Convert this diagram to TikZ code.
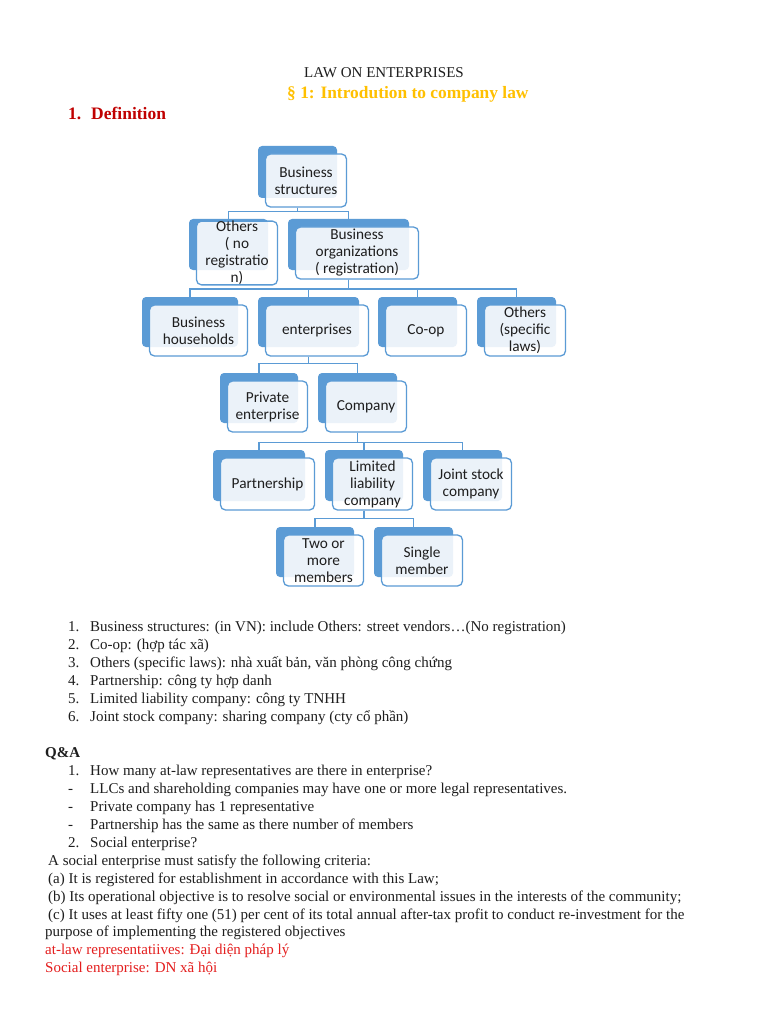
\documentclass[tikz,border=0pt]{standalone}
\usepackage{fontspec}
\setmainfont{Liberation Serif}
\newfontfamily\diagfont{Carlito}
\definecolor{sa}{RGB}{91,155,213}
\definecolor{ttl}{RGB}{255,192,0}
\definecolor{defred}{RGB}{192,0,0}
\definecolor{vnred}{RGB}{228,30,30}
\definecolor{ink}{RGB}{30,30,30}
\tikzset{
  backbox/.style={fill=sa, rounded corners=4pt, inner sep=0pt, draw=none},
  frontbox/.style={draw=sa, line width=1.3pt, fill=white, fill opacity=0.88, text opacity=1,
    rounded corners=5pt, inner sep=0pt, align=center, text=ink,
    font=\diagfont\fontsize{15.3}{17}\selectfont},
  conn/.style={draw=sa, line width=1.5pt},
  body/.style={anchor=base west, inner sep=0pt, text=ink, font=\fontsize{15}{18}\selectfont},
}
\newcommand\orgbox[6]{%
  \node[backbox, minimum width=#4pt, minimum height=#5pt] (#1) at (#2,#3) {};
  \node[frontbox, minimum width=#4pt+2pt, minimum height=#5pt+1pt] (#1f) at ({#2+8.5},{#3+8.5}) {#6};
}
\begin{document}
\begin{tikzpicture}[x=1pt,y=-1pt]
\useasboundingbox[fill=white] (0,0) rectangle (768,1024);

% Headings
\node[anchor=base west, inner sep=0pt, text=ink, font=\fontsize{15}{18}\selectfont] (t1) at (304,78) {LAW ON ENTERPRISES};
\node[anchor=base west, inner sep=0pt, text=ttl, font=\bfseries\fontsize{17.4}{20}\selectfont] (t2) at (287,99) {§ 1: Introdution to company law};
\node[anchor=base west, inner sep=0pt, text=defred, font=\bfseries\fontsize{17.5}{20}\selectfont] (t3n) at (68,120) {1.};
\node[anchor=base west, inner sep=0pt, text=defred, font=\bfseries\fontsize{17.5}{20}\selectfont] (t3) at (91,120) {Definition};

% Org chart
\orgbox{bs}{297.5}{172}{79}{52}{Business\\structures}
\orgbox{oth}{228.5}{244.5}{79}{51}{Others\\( no\\registratio\\n)}
\orgbox{bo}{348.5}{244.5}{121}{51}{Business\\organizations\\( registration)}
\orgbox{bh}{190}{322}{96}{50}{Business\\households}
\orgbox{ent}{308.5}{322}{101}{50}{enterprises}
\orgbox{coop}{417.5}{322}{79}{50}{Co-op}
\orgbox{osl}{516.5}{322}{79}{50}{Others\\(specific\\laws)}
\orgbox{pe}{259}{398}{78}{50}{Private\\enterprise}
\orgbox{co}{357.5}{398}{79}{50}{Company}
\orgbox{pa}{259}{475.5}{92}{51}{Partnership}
\orgbox{llc}{364}{475.5}{78}{51}{Limited\\liability\\company}
\orgbox{jsc}{462.5}{475.5}{79}{51}{Joint stock\\company}
\orgbox{tm}{315}{552}{78}{50}{Two or\\more\\members}
\orgbox{sm}{413.5}{552}{79}{50}{Single\\member}

% Connectors
\foreach \c in {oth,bo} \draw[conn] (bsf.south -| bs.south) -- ++(0,4) -| (\c.north);
\foreach \c in {bh,ent,coop,osl} \draw[conn] (bof.south -| bo.south) -- ++(0,9.5) -| (\c.north);
\foreach \c in {pe,co} \draw[conn] (entf.south -| ent.south) -- ++(0,7) -| (\c.north);
\foreach \c in {pa,llc,jsc} \draw[conn] (cof.south -| co.south) -- ++(0,10) -| (\c.north);
\foreach \c in {tm,sm} \draw[conn] (llcf.south -| llc.south) -- ++(0,8) -| (\c.north);

% Numbered list
\node[body] (n1) at (68,631) {1.};  \node[body] (l1) at (90,631) {Business structures: (in VN): include Others: street vendors…(No registration)};
\node[body] (n2) at (68,649) {2.};  \node[body] (l2) at (90,649) {Co-op: (hợp tác xã)};
\node[body] (n3) at (68,667) {3.};  \node[body] (l3) at (90,667) {Others (specific laws): nhà xuất bản, văn phòng công chứng};
\node[body] (n4) at (68,685) {4.};  \node[body] (l4) at (90,685) {Partnership: công ty hợp danh};
\node[body] (n5) at (68,703) {5.};  \node[body] (l5) at (90,703) {Limited liability company: công ty TNHH};
\node[body] (n6) at (68,721) {6.};  \node[body] (l6) at (90,721) {Joint stock company: sharing company (cty cổ phần)};

% Q&A
\node[body, font=\bfseries\fontsize{15}{18}\selectfont] (qa) at (45,757) {Q\&A};
\node[body] (q1n) at (68,775) {1.};  \node[body] (q1) at (90,775) {How many at-law representatives are there in enterprise?};
\node[body] (d1n) at (68,793) {-};   \node[body] (d1) at (90,793) {LLCs and shareholding companies may have one or more legal representatives.};
\node[body] (d2n) at (68,811) {-};   \node[body] (d2) at (90,811) {Private company has 1 representative};
\node[body] (d3n) at (68,829) {-};   \node[body] (d3) at (90,829) {Partnership has the same as there number of members};
\node[body] (q2n) at (68,847) {2.};  \node[body] (q2) at (90,847) {Social enterprise?};
\node[body] (s0) at (48,865) {A social enterprise must satisfy the following criteria:};
\node[body] (sa) at (48,883) {(a) It is registered for establishment in accordance with this Law;};
\node[body] (sb) at (48,901) {(b) Its operational objective is to resolve social or environmental issues in the interests of the community;};
\node[body] (sc) at (48,919) {(c) It uses at least fifty one (51) per cent of its total annual after-tax profit to conduct re-investment for the};
\node[body] (sd) at (45,936) {purpose of implementing the registered objectives};
\node[body, text=vnred] (r1) at (45,954) {at-law representatiives: Đại diện pháp lý};
\node[body, text=vnred] (r2) at (45,972) {Social enterprise: DN xã hội};
\end{tikzpicture}
\end{document}
